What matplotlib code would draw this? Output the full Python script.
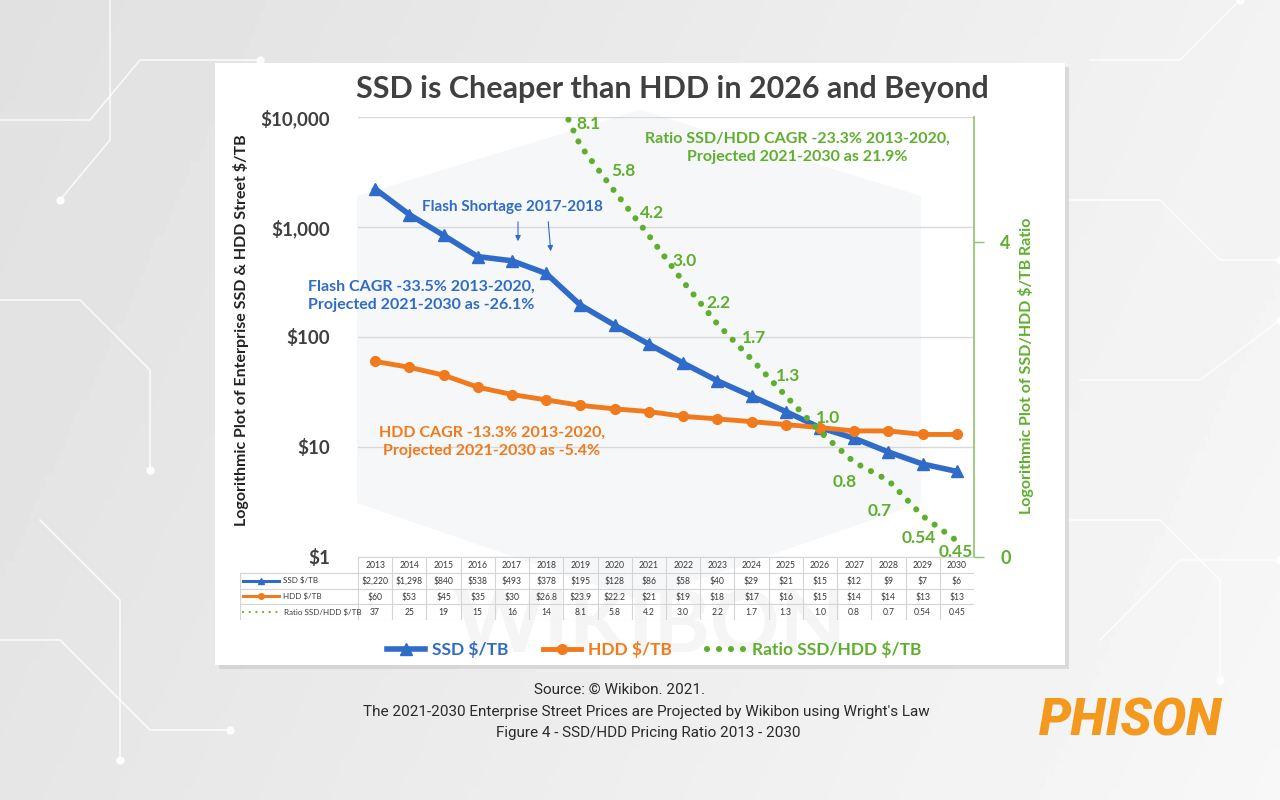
import matplotlib
matplotlib.use("Agg")
import matplotlib.pyplot as plt
import numpy as np
from matplotlib.lines import Line2D
from matplotlib.patches import Rectangle, Polygon

plt.rcParams['text.parse_math'] = False
plt.rcParams['font.family'] = ['Lato', 'DejaVu Sans']

# ---------------- data ----------------
years = [2013, 2014, 2015, 2016, 2017, 2018, 2019, 2020, 2021,
         2022, 2023, 2024, 2025, 2026, 2027, 2028, 2029, 2030]
ssd = [2220, 1298, 840, 538, 493, 378, 195, 128, 86, 58, 40, 29, 21, 15, 12, 9, 7, 6]
hdd = [60, 53, 45, 35, 30, 26.8, 23.9, 22.2, 21, 19, 18, 17, 16, 15, 14, 14, 13, 13]
ratio = [37, 25, 19, 15, 16, 14, 8.1, 5.8, 4.2, 3.0, 2.2, 1.7, 1.3, 1.0, 0.8, 0.7, 0.54, 0.45]
ssd_text = ["$2,220", "$1,298", "$840", "$538", "$493", "$378", "$195", "$128", "$86",
            "$58", "$40", "$29", "$21", "$15", "$12", "$9", "$7", "$6"]
hdd_text = ["$60", "$53", "$45", "$35", "$30", "$26.8", "$23.9", "$22.2", "$21",
            "$19", "$18", "$17", "$16", "$15", "$14", "$14", "$13", "$13"]
ratio_text = ["37", "25", "19", "15", "16", "14", "8.1", "5.8", "4.2", "3.0",
              "2.2", "1.7", "1.3", "1.0", "0.8", "0.7", "0.54", "0.45"]
left_ticks = [1, 10, 100, 1000, 10000]
left_tick_labels = ["$1", "$10", "$100", "$1,000", "$10,000"]
right_ticks = [0.4, 4]
right_tick_labels = ["0", "4"]
series_names = ["SSD $/TB", "HDD $/TB", "Ratio SSD/HDD $/TB"]

# ---------------- style ----------------
BLUE = "#2F6BC8"
ORANGE = "#F07A1C"
GREEN = "#5FAF2E"
DARK = "#404040"
W, H = 1280, 800
RATIO_LS = (0, (0.01, 1.95))


def fx(x):
    return x / W


def fy(y):
    return 1 - y / H


fig = plt.figure(figsize=(12.8, 8), dpi=100)

# background + card (pixel coordinate axes)
bg = fig.add_axes([0, 0, 1, 1], zorder=-10)
bg.set_xlim(0, W)
bg.set_ylim(H, 0)
bg.axis('off')
gx = np.linspace(0, 1, 256)
grad = 0.88 + 0.07 * np.outer(np.ones(64), gx) + 0.02 * np.outer(np.linspace(0, 1, 64), np.ones(256))
bg.imshow(grad, cmap='gray', vmin=0, vmax=1, extent=[0, W, H, 0], aspect='auto', zorder=0)
# faint circuit-like decoration
deco = [
    [(0, 120), (90, 120), (140, 60), (260, 60)], [(110, 0), (110, 140), (60, 200)],
    [(0, 300), (80, 300), (150, 370), (150, 470)], [(40, 520), (120, 600), (120, 760)],
    [(0, 640), (60, 640), (150, 730), (230, 730)], [(1090, 60), (1180, 60), (1240, 0)],
    [(1070, 200), (1160, 200), (1220, 260), (1280, 260)], [(1080, 380), (1200, 380), (1280, 320)],
    [(1070, 520), (1160, 520), (1220, 580), (1220, 680)], [(1100, 640), (1180, 560), (1280, 560)],
]
for seg in deco:
    xs_, ys_ = zip(*seg)
    bg.plot(xs_, ys_, color='white', lw=1.2, alpha=0.8, zorder=1)
    bg.plot(xs_[-1], ys_[-1], 'o', color='white', ms=5, alpha=0.9, zorder=1)
bg.add_patch(Rectangle((219, 67), 850, 602, facecolor='#b0b0b0', alpha=0.35, edgecolor='none', zorder=2))
bg.add_patch(Rectangle((215, 63), 850, 602, facecolor='white', edgecolor='none', zorder=3))
bg.add_patch(Polygon([(357, 196), (640, 110), (921, 196), (921, 503), (640, 600), (357, 503)],
                     closed=True, facecolor='#f6f7f9', edgecolor='none', zorder=4))
bg.text(650, 628, "WIKIBON", fontsize=62, fontweight='bold', color='#f5f5f5',
        ha='center', va='center', zorder=5)

# ---------------- main axes ----------------
ax = fig.add_axes([fx(358), fy(557), fx(974) - fx(358), fy(117) - fy(557)])
ax.patch.set_alpha(0)
ax.set_yscale('log')
ax.set_ylim(1, 10000)
ax.set_xlim(-0.5, len(years) - 0.5)
ax.set_yticks(left_ticks)
ax.set_yticklabels(left_tick_labels)
ax.yaxis.set_minor_locator(matplotlib.ticker.NullLocator())
ax.tick_params(axis='y', length=0, labelsize=13.5, labelcolor=DARK, pad=20)
for lab in ax.get_yticklabels():
    lab.set_fontweight('bold')
ax.set_xticks([])
ax.grid(axis='y', color='#d9d9d9', lw=1)
for s in ax.spines.values():
    s.set_visible(False)
ax.set_axisbelow(True)

xs = np.arange(len(years))
ax.plot(xs, ssd, color=BLUE, lw=4, marker='^', ms=9, zorder=4, solid_joinstyle='round')
ax.plot(xs, hdd, color=ORANGE, lw=3.5, marker='o', ms=7, zorder=4, solid_joinstyle='round')

ax2 = ax.twinx()
ax2.set_yscale('log')
ax2.set_ylim(0.4, 10)
ax2.set_yticks(right_ticks)
ax2.set_yticklabels(right_tick_labels)
ax2.yaxis.set_minor_locator(matplotlib.ticker.NullLocator())
ax2.tick_params(axis='y', length=7, width=1, color='#8cc46a', labelsize=13,
                labelcolor=GREEN, pad=12)
for lab in ax2.get_yticklabels():
    lab.set_fontweight('bold')
for k, s in ax2.spines.items():
    s.set_visible(k == 'right')
ax2.spines['right'].set_color('#8cc46a')
ax2.spines['right'].set_linewidth(1.2)
ax2.plot(xs, ratio, color=GREEN, lw=4.4, linestyle=RATIO_LS,
         dash_capstyle='round', zorder=5)

# ratio data labels (shown from 2019 on)
label_offsets = {6: (6, 16), 7: (6, 15), 8: (2, 16), 9: (1, 15), 10: (1, 15), 11: (2, 15),
                 12: (2, 14), 13: (6, 10), 14: (-7, -14), 15: (-6, -22), 16: (-3, -16), 17: (-1, -8)}
for i, (dx, dy) in label_offsets.items():
    ax2.annotate(ratio_text[i], (xs[i], ratio[i]), xytext=(dx, dy), textcoords='offset points',
                 ha='center', va='center', fontsize=12.5, fontweight='bold', color=GREEN,
                 annotation_clip=False, zorder=6)

# ---------------- overlay text ----------------
ov = fig.add_axes([0, 0, 1, 1], zorder=20)
ov.set_xlim(0, W)
ov.set_ylim(H, 0)
ov.axis('off')
ov.patch.set_alpha(0)

ov.text(672, 89, "SSD is Cheaper than HDD in 2026 and Beyond", fontsize=22, fontweight='bold',
        color=DARK, ha='center', va='center')
ov.text(241, 330, "Logorithmic Plot of Enterprise SSD & HDD Street $/TB", rotation=90,
        fontsize=11.5, fontweight='bold', color='#222222', ha='center', va='center')
ov.text(1026, 366, "Logorithmic Plot of SSD/HDD $/TB Ratio", rotation=90,
        fontsize=11.5, fontweight='bold', color=GREEN, ha='center', va='center')

ov.text(512, 207, "Flash Shortage 2017-2018", fontsize=11, fontweight='bold', color=BLUE,
        ha='center', va='center')
for (x0, y0, x1, y1) in [(518, 219, 518, 244), (548, 219, 551, 254)]:
    ov.annotate('', xy=(x1, y1), xytext=(x0, y0),
                arrowprops=dict(arrowstyle='-|>', color=BLUE, lw=0.8, mutation_scale=8))
ov.text(421, 296, "Flash CAGR -33.5% 2013-2020,\nProjected 2021-2030 as -26.1%", fontsize=11.5,
        fontweight='bold', color=BLUE, ha='center', va='center', linespacing=1.45)
ov.text(492, 442, "HDD CAGR -13.3% 2013-2020,\nProjected 2021-2030 as -5.4%", fontsize=11.5,
        fontweight='bold', color=ORANGE, ha='center', va='center', linespacing=1.45)
ov.text(797, 148, "Ratio SSD/HDD CAGR -23.3% 2013-2020,\nProjected 2021-2030 as 21.9%", fontsize=11.5,
        fontweight='bold', color=GREEN, ha='center', va='center', linespacing=1.45)

# caption
CAP = "#2a2a2a"
ov.text(620, 690, "Source: \u00a9 Wikibon. 2021.", fontsize=11, family='Roboto', color=CAP,
        ha='center', va='center')
ov.text(646, 712, "The 2021-2030 Enterprise Street Prices are Projected by Wikibon using Wright's Law",
        fontsize=11, family='Roboto', color=CAP, ha='center', va='center')
ov.text(648, 733, "Figure 4 - SSD/HDD Pricing Ratio 2013 - 2030", fontsize=11, family='Roboto',
        color=CAP, ha='center', va='center')
ov.text(1131, 722, "PHISON", fontsize=37, family='Roboto', fontweight='black', style='italic',
        color='#F39A1E', ha='center', va='center')

# ---------------- data table ----------------
colw = (974 - 358) / len(years)
left_units = (358 - 240) / colw
tab = fig.add_axes([fx(240), fy(620), fx(974) - fx(240), fy(557) - fy(620)], zorder=5)
xmin = -0.5 - left_units
tab.set_xlim(xmin, len(years) - 0.5)
tab.set_ylim(4, 0)
tab.axis('off')
tab.patch.set_alpha(0)
GRIDC = '#d4d4d4'
for k in range(len(years) + 1):
    tab.plot([k - 0.5, k - 0.5], [0, 4], color=GRIDC, lw=0.8)
tab.plot([xmin, xmin], [1, 4], color=GRIDC, lw=0.8)
tab.plot([-0.5, len(years) - 0.5], [0, 0], color=GRIDC, lw=0.8)
for r in range(1, 5):
    tab.plot([xmin, len(years) - 0.5], [r, r], color=GRIDC, lw=0.8)
TXT = '#3a3a3a'
for i, yv in enumerate(years):
    tab.text(i, 0.55, str(yv), fontsize=6.2, color=TXT, ha='center', va='center')
    tab.text(i, 1.55, ssd_text[i], fontsize=6.2, color=TXT, ha='center', va='center')
    tab.text(i, 2.55, hdd_text[i], fontsize=6.2, color=TXT, ha='center', va='center')
    tab.text(i, 3.55, ratio_text[i], fontsize=6.2, color=TXT, ha='center', va='center')
kx0, kx1 = xmin + 0.1, xmin + 1.15
tab.plot([kx0, kx1], [1.5, 1.5], color=BLUE, lw=2.2)
tab.plot([(kx0 + kx1) / 2], [1.5], marker='^', color=BLUE, ms=5)
tab.plot([kx0, kx1], [2.5, 2.5], color=ORANGE, lw=2.2)
tab.plot([(kx0 + kx1) / 2], [2.5], marker='o', color=ORANGE, ms=4)
tab.plot([kx0, kx1], [3.5, 3.5], color=GREEN, lw=1.6, linestyle=(0, (0.01, 3)), dash_capstyle='round')
tab.text(xmin + 1.25, 1.5, series_names[0], fontsize=5.8, color=TXT, ha='left', va='center')
tab.text(xmin + 1.25, 2.5, series_names[1], fontsize=5.8, color=TXT, ha='left', va='center')
tab.text(xmin + 1.3, 3.5, series_names[2], fontsize=5.8, color=TXT, ha='left', va='center')

# ---------------- legend ----------------
handles = [
    Line2D([], [], color=BLUE, lw=4, marker='^', ms=9),
    Line2D([], [], color=ORANGE, lw=3.5, marker='o', ms=7),
    Line2D([], [], color=GREEN, lw=4.4, linestyle=RATIO_LS, dash_capstyle='round'),
]
leg = fig.legend(handles, series_names, loc='center', bbox_to_anchor=(fx(654), fy(650)), ncol=3,
                 frameon=False, prop={'weight': 'bold', 'size': 12.5}, handlelength=2.2,
                 columnspacing=2.0, handletextpad=0.4)
for t, c in zip(leg.get_texts(), [BLUE, ORANGE, GREEN]):
    t.set_color(c)

fig.savefig("out.png", dpi=100)
